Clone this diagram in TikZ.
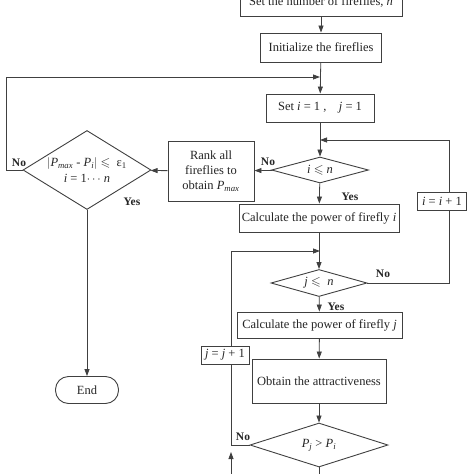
\documentclass[tikz,border=0pt]{standalone}
\usepackage{fontspec}
\setmainfont{Liberation Serif}
\usepackage{amssymb}
\usetikzlibrary{arrows.meta, positioning, shapes.geometric}

\newcommand{\Pmax}{\textit{P}\textsubscript{\textit{max}}}
\newcommand{\Psub}[1]{\textit{P}\textsubscript{\textit{#1}}}

\begin{document}
\begin{tikzpicture}[x=1pt, y=-1pt,
    every node/.style={font=\fontsize{12.5}{15}\selectfont, text=black!85},
    box/.style={draw=black!75, line width=0.9pt, fill=white, inner sep=1pt, align=center},
    dec/.style={draw=black!75, line width=0.9pt, diamond, inner sep=0pt, align=center},
    line/.style={draw=black!75, line width=0.8pt},
    flow/.style={line, -{Triangle[length=7pt,width=5pt]}},
    lbl/.style={font=\fontsize{11.5}{13}\selectfont\bfseries}]
  \useasboundingbox (0,0) rectangle (474,474);
  \clip (0,0) rectangle (474,474);

  % main column
  \node[box, minimum width=162, minimum height=28] (setn) at (321,2) {Set the number of fireflies, \textit{n}};
  \node[box, minimum width=121, minimum height=29] (init) at (321,47.5) {Initialize the fireflies};
  \node[box, minimum width=108, minimum height=28] (setij) at (320,108) {Set \textit{i} = 1 ,\quad \textit{j} = 1};
  \node[dec, minimum width=97, minimum height=26, aspect=3.7] (ileq) at (320,170) {\textit{i} $\leqslant$ \textit{n}};
  \node[box, minimum width=160, minimum height=28] (calci) at (319,218) {Calculate the power of firefly \textit{i}};
  \node[dec, minimum width=96, minimum height=27, aspect=3.5] (jleq) at (319,283) {\textit{j} $\leqslant$\; \textit{n}};
  \node[box, minimum width=165, minimum height=26] (calcj) at (319.5,325) {Calculate the power of firefly \textit{j}};
  \node[box, minimum width=134, minimum height=44] (attr) at (319,381) {Obtain the attractiveness};
  \node[dec, minimum width=138, minimum height=44, aspect=3.1] (pgt) at (319,445) {\Psub{j} {\textgreater} \Psub{i}};

  % left column
  \node[box, minimum width=86, minimum height=60] (rank) at (211,171) {Rank all\\fireflies to\\obtain \Pmax};
  \node[dec, minimum width=128, minimum height=79, aspect=1.6] (conv) at (87,170)
    {$|$\Pmax\ - \Psub{i}$|$ $\leqslant$\ \ ε\textsubscript{1}\\[1pt]\textit{i} = 1$\cdots$ \textit{n}};
  \node[box, minimum width=63, minimum height=27, rounded corners=13pt] (end) at (87,390) {End};

  % loop corners
  \coordinate (tin) at (320,77);
  \coordinate (bl) at (6,170);
  \coordinate (iin) at (320,140);
  \coordinate (ir) at (449,140);
  \coordinate (jin) at (320,251);
  \coordinate (jtop) at (231,251);
  \coordinate (jbot) at (231,474);
  \coordinate (jup) at (231,452);

  % connectors
  \draw[flow] (setn) -- (init);
  \draw[flow] (init) -- (setij);
  \draw[flow] (setij) -- (ileq);
  \draw[flow] (ileq) -- (calci);
  \draw[flow] (ileq) -- (rank);
  \draw[flow] (rank) -- (conv);
  \draw[flow] (conv) -- (end);
  \draw[flow] (conv.west) -- (bl) |- (tin);
  \draw[flow] (calci) -- (jleq);
  \draw[flow] (jleq) -- (calcj);
  \draw[flow] (calcj) -- (attr);
  \draw[flow] (attr) -- (pgt);
  \draw[flow] (jleq.east) -| (ir) -- (iin);
  \draw[flow] (pgt.west) -| (jtop) -- (jin);
  \draw[flow] (jbot) -- (jup);
  \draw[line] (pgt.south) -- (pgt.south |- jbot);

  % counters on the loops
  \node[box, minimum width=49, minimum height=18] (incri) at (442,201) {\textit{i} = \textit{i} + 1};
  \node[box, minimum width=48, minimum height=18] (incrj) at (225,355) {\textit{j} = \textit{j} + 1};

  % branch labels
  \node[lbl] (no1) at (268,162) {No};
  \node[lbl] (yes1) at (350,197) {Yes};
  \node[lbl] (no2) at (19,163) {No};
  \node[lbl] (yes2) at (132,202) {Yes};
  \node[lbl] (no3) at (383,274) {No};
  \node[lbl] (yes3) at (336,307) {Yes};
  \node[lbl] (no4) at (243,437) {No};
\end{tikzpicture}
\end{document}
